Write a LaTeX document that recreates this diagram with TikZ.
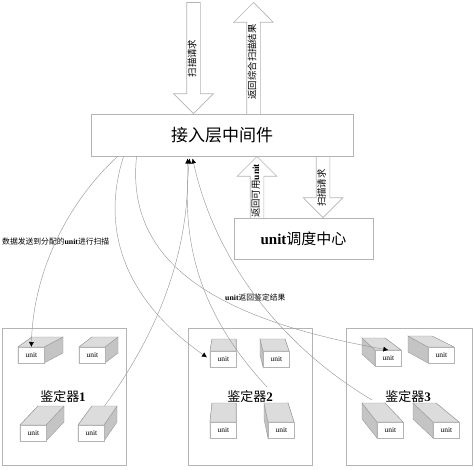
\documentclass[tikz,border=0pt]{standalone}
\usepackage{fontspec}
\setmainfont{Liberation Serif}
\newfontfamily\cjk{Noto Sans CJK SC}
\usetikzlibrary{positioning,arrows.meta,calc,shapes.arrows}
\definecolor{cLine}{HTML}{B4B4B4}
\definecolor{cCurve}{HTML}{999999}
\definecolor{cTop}{HTML}{DCDCDC}
\definecolor{cSide}{HTML}{C4C4C4}
\newcommand{\smallzh}[1]{{\fontsize{7.8}{9}\selectfont\cjk #1}}
\newcommand{\unitbox}[6]{%
  \filldraw[draw=cCurve,line width=0.4pt,fill=cSide] (#2,#3) -- ({#2+#4},{#3+#6}) -- ({#2+#4},{#3+#6+16}) -- (#2,{#3+16}) -- cycle;
  \filldraw[draw=cCurve,line width=0.4pt,fill=cSide] ({#2+26},#3) -- ({#2+26+#5},{#3+#6}) -- ({#2+26+#5},{#3+#6+16}) -- ({#2+26},{#3+16}) -- cycle;
  \filldraw[draw=cCurve,line width=0.4pt,fill=cTop] (#2,#3) -- ({#2+#4},{#3+#6}) -- ({#2+26+#5},{#3+#6}) -- ({#2+26},#3) -- cycle;
  \node[unitnode,anchor=north west] (#1) at (#2,#3) {unit};
  \coordinate (#1top) at ({#2+13+(#4+#5)/2},{#3+#6});
}
\begin{document}
\begin{tikzpicture}[x=1pt,y=-1pt,
    boxnode/.style={draw=cLine,line width=0.9pt,fill=white,inner sep=0pt},
    panelnode/.style={draw=cLine,line width=0.9pt,inner sep=0pt,minimum height=137pt},
    unitnode/.style={draw=cLine,line width=0.7pt,fill=white,inner sep=0pt,minimum width=26pt,minimum height=16pt,font=\fontsize{7.5}{9}\selectfont},
    titlenode/.style={inner sep=0pt,font=\fontsize{13}{15}\selectfont},
    fatarrow/.style={single arrow,draw=cLine,line width=0.7pt,fill=white,rotate=90,inner xsep=0pt,inner ysep=2.5pt,
      text height=6pt,text depth=2pt,single arrow head extend=13pt,single arrow tip angle=90,font=\fontsize{9.4}{10}\selectfont},
    curveline/.style={draw=cCurve,line width=0.45pt},
    curvetip/.style={curveline,-{Latex[length=5pt,width=5pt,black]}}]
  \useasboundingbox (0,0) rectangle (474,469);

  \node[panelnode,minimum width=124pt] (panelA) at (64,396.5) {};
  \node[panelnode,minimum width=124pt] (panelB) at (250,396.5) {};
  \node[panelnode,minimum width=126pt] (panelC) at (409,396.5) {};

  \node[fatarrow,shape border rotate=180,minimum height=111pt,minimum width=39pt,anchor=tip] (reqdown) at (193.5,114) {\cjk 扫描请求\hspace*{8pt}};
  \node[fatarrow,minimum height=112pt,minimum width=39pt,anchor=tip] (resultup) at (253.5,2) {\cjk 返回综合扫描结果};
  \node[fatarrow,minimum height=62pt,minimum width=38pt,anchor=tip] (unitup) at (257,156) {\cjk 返回可用{\rmfamily\bfseries unit}};
  \node[fatarrow,shape border rotate=180,minimum height=62pt,minimum width=38pt,anchor=tip] (schedreq) at (323,218) {\cjk 扫描请求\hspace*{10pt}};

  \node[boxnode,minimum width=262pt,minimum height=42pt] (main) at (222,135) {\fontsize{17}{20}\selectfont\cjk 接入层中间件};
  \node[boxnode,minimum width=139pt,minimum height=41pt] (sched) at (303.5,238.5) {\fontsize{15}{18}\selectfont\bfseries unit{\cjk\mdseries 调度中心}};

  \unitbox{uA}{18}{347}{14}{19}{-10}
  \unitbox{uB}{79}{347}{13}{13}{-10}
  \unitbox{uC}{20}{425}{18}{18}{-19}
  \unitbox{uD}{78}{425}{14}{13}{-19}
  \unitbox{uE}{210}{351}{2}{0}{-12}
  \unitbox{uF}{263}{351}{-3}{-4}{-12}
  \unitbox{uG}{210}{422}{2}{0}{-19}
  \unitbox{uH}{268}{422}{-4}{-6}{-19}
  \unitbox{uI}{375}{350}{-13}{-16}{-12}
  \unitbox{uJ}{428}{347}{-20}{-22}{-11}
  \unitbox{uK}{377}{422}{-15}{-18}{-19}
  \unitbox{uL}{433}{422}{-20}{-23}{-19}

  \node[titlenode] (titleA) at (63,397) {\cjk 鉴定器{\rmfamily\bfseries 1}};
  \node[titlenode] (titleB) at (250,397) {\cjk 鉴定器{\rmfamily\bfseries 2}};
  \node[titlenode] (titleC) at (408,397) {\cjk 鉴定器{\rmfamily\bfseries 3}};

  \node[inner sep=0pt,anchor=west] (sendlabel) at (2,242) {\smallzh{数据发送到分配的}{\fontsize{7.8}{9}\selectfont\bfseries unit}\smallzh{进行扫描}};
  \node[inner sep=0pt,anchor=west] (backlabel) at (225,298) {{\fontsize{7.8}{9}\selectfont\bfseries unit}\smallzh{返回鉴定结果}};

  \coordinate (endH) at (267,387);
  \coordinate (endK) at (372,400);
  \path[curvetip] ($(main.south west)+(27,0)$) .. controls (65,205) and (33,275) .. (uA.north);
  \path[curvetip] ($(main.south west)+(33,0)$) .. controls (100,230) and (125,300) .. ($(uE.west)+(-3,-2)$);
  \path[curvetip] ($(main.south west)+(46,0)$) .. controls (125,265) and (220,320) .. (uI.north);
  \path[curvetip] (uDtop) .. controls (160,330) and (190,250) .. ($(main.south west)+(97,2)$);
  \path[curvetip] (endH) .. controls (205,320) and (180,250) .. ($(main.south west)+(99,2)$);
  \path[curvetip] (endK) .. controls (280,345) and (215,260) .. ($(main.south west)+(102,2)$);
\end{tikzpicture}
\end{document}
